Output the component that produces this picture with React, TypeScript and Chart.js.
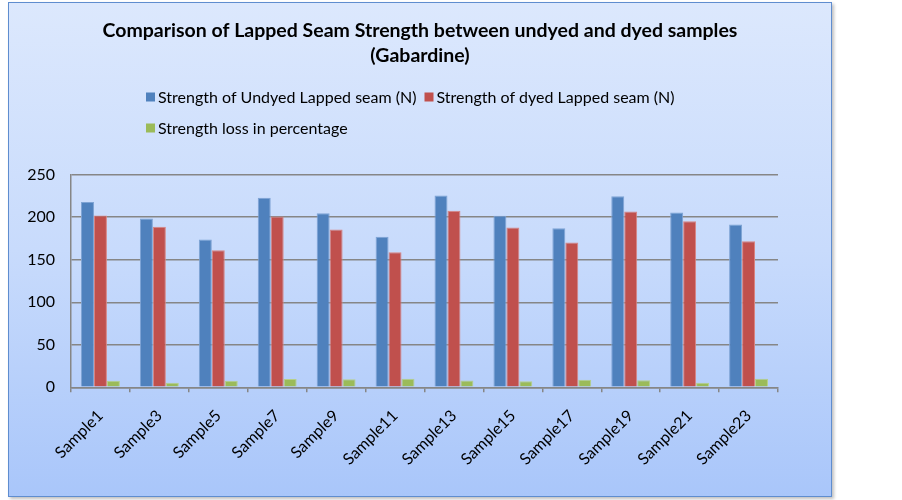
import React, { useEffect, useRef } from 'react';
import { Chart, registerables } from 'chart.js';

Chart.register(...registerables);

const samples = ['Sample1', 'Sample3', 'Sample5', 'Sample7', 'Sample9', 'Sample11', 'Sample13', 'Sample15', 'Sample17', 'Sample19', 'Sample21', 'Sample23'];
const undyedStrength = [218, 198.5, 173.7, 222.9, 204.8, 176.9, 225.6, 201.7, 187.1, 224.8, 205.6, 191.4];
const dyedStrength = [202, 188.7, 161.2, 200.9, 185.5, 158.8, 207.5, 187.9, 170.2, 206.8, 195.4, 171.8];
const lossPercent = [7.8, 5.3, 7.8, 9.8, 9.6, 10.2, 7.9, 7.1, 9.0, 8.3, 5.4, 10.2];
const seriesNames = ['Strength of Undyed Lapped seam (N)', 'Strength of dyed Lapped seam (N)', 'Strength loss in percentage'];
const seriesColors = ['#4f81bd', '#c0504d', '#9bbb59'];
const seriesEdges = ['#7ea3d4', '#d98582', '#b7d08a'];
const titleLines = ['Comparison of Lapped Seam Strength between undyed and dyed samples', '(Gabardine)'];

const FONT = 'Lato, "Open Sans", sans-serif';

// legend in two rows like the original (two items, then one)
const twoRowLegend = {
  id: 'twoRowLegend',
  afterDraw(chart: any) {
    const { ctx } = chart;
    const rows = [[0, 1], [2]];
    const rowY = [94, 125];
    ctx.save();
    ctx.font = `16px ${FONT}`;
    ctx.textBaseline = 'middle';
    rows.forEach((row, r) => {
      let x = 137;
      row.forEach((i) => {
        const ds = chart.data.datasets[i];
        ctx.fillStyle = ds.backgroundColor;
        ctx.fillRect(x, rowY[r] - 4.5, 9, 9);
        x += 12;
        ctx.fillStyle = '#000';
        ctx.fillText(ds.label, x, rowY[r] + 1);
        x += ctx.measureText(ds.label).width + 8;
      });
    });
    ctx.restore();
  },
};

const App: React.FC = () => {
  const canvasRef = useRef<HTMLCanvasElement>(null);

  useEffect(() => {
    if (!canvasRef.current) return;
    const values = [undyedStrength, dyedStrength, lossPercent];
    const chart = new Chart(canvasRef.current, {
      type: 'bar',
      data: {
        labels: samples,
        datasets: values.map((data, i) => ({
          label: seriesNames[i],
          data,
          backgroundColor: seriesColors[i],
          borderColor: seriesEdges[i],
          borderWidth: { top: 1, left: 1, right: 1, bottom: 0 },
          barPercentage: 1,
          categoryPercentage: 0.66,
        })),
      },
      options: {
        responsive: false,
        animation: false,
        layout: { padding: { left: 0, right: 0, top: 0, bottom: 13 } },
        plugins: {
          legend: { display: false },
          tooltip: { enabled: false },
          title: {
            display: true,
            text: titleLines,
            color: '#000',
            font: { family: FONT, size: 19.5, weight: 'bold', lineHeight: 1.3 },
            padding: { top: 15, bottom: 106 },
          },
        },
        scales: {
          x: {
            grid: { display: true, drawOnChartArea: false, drawTicks: true, tickLength: 5, color: '#868686', lineWidth: 1.5 },
            border: { color: '#868686', width: 1.5 },
            ticks: { color: '#000', font: { family: FONT, size: 16 }, minRotation: 45, maxRotation: 45, padding: 14 },
          },
          y: {
            min: 0,
            max: 250,
            afterFit: (scale: any) => { scale.width = 62; },
            grid: { color: '#868686', lineWidth: 1.5, drawTicks: false },
            border: { color: '#868686', width: 1.5 },
            ticks: { stepSize: 50, color: '#000', font: { family: FONT, size: 16 }, padding: 16 },
          },
          // empty right axis keeps the blank strip right of the plot
          spacer: {
            type: 'linear',
            position: 'right',
            afterFit: (scale: any) => { scale.width = 53; },
            grid: { display: false },
            border: { display: false },
            ticks: { display: false },
          },
        },
      },
      plugins: [twoRowLegend],
    });
    return () => chart.destroy();
  }, []);

  return (
    <div style={{ position: 'absolute', left: 0, top: 0, width: 902, height: 500, background: '#fff' }}>
      <div
        style={{
          position: 'absolute',
          left: 8,
          top: 2,
          width: 822,
          height: 493,
          border: '1px solid #5f8dcf',
          boxShadow: '2px 2px 3px rgba(0,0,0,0.25)',
          background: 'linear-gradient(to bottom, #dce8fd 0%, #c8dbfc 50%, #a9c6fa 100%)',
        }}
      >
        <canvas ref={canvasRef} width={822} height={493} />
      </div>
    </div>
  );
};

export default App;
